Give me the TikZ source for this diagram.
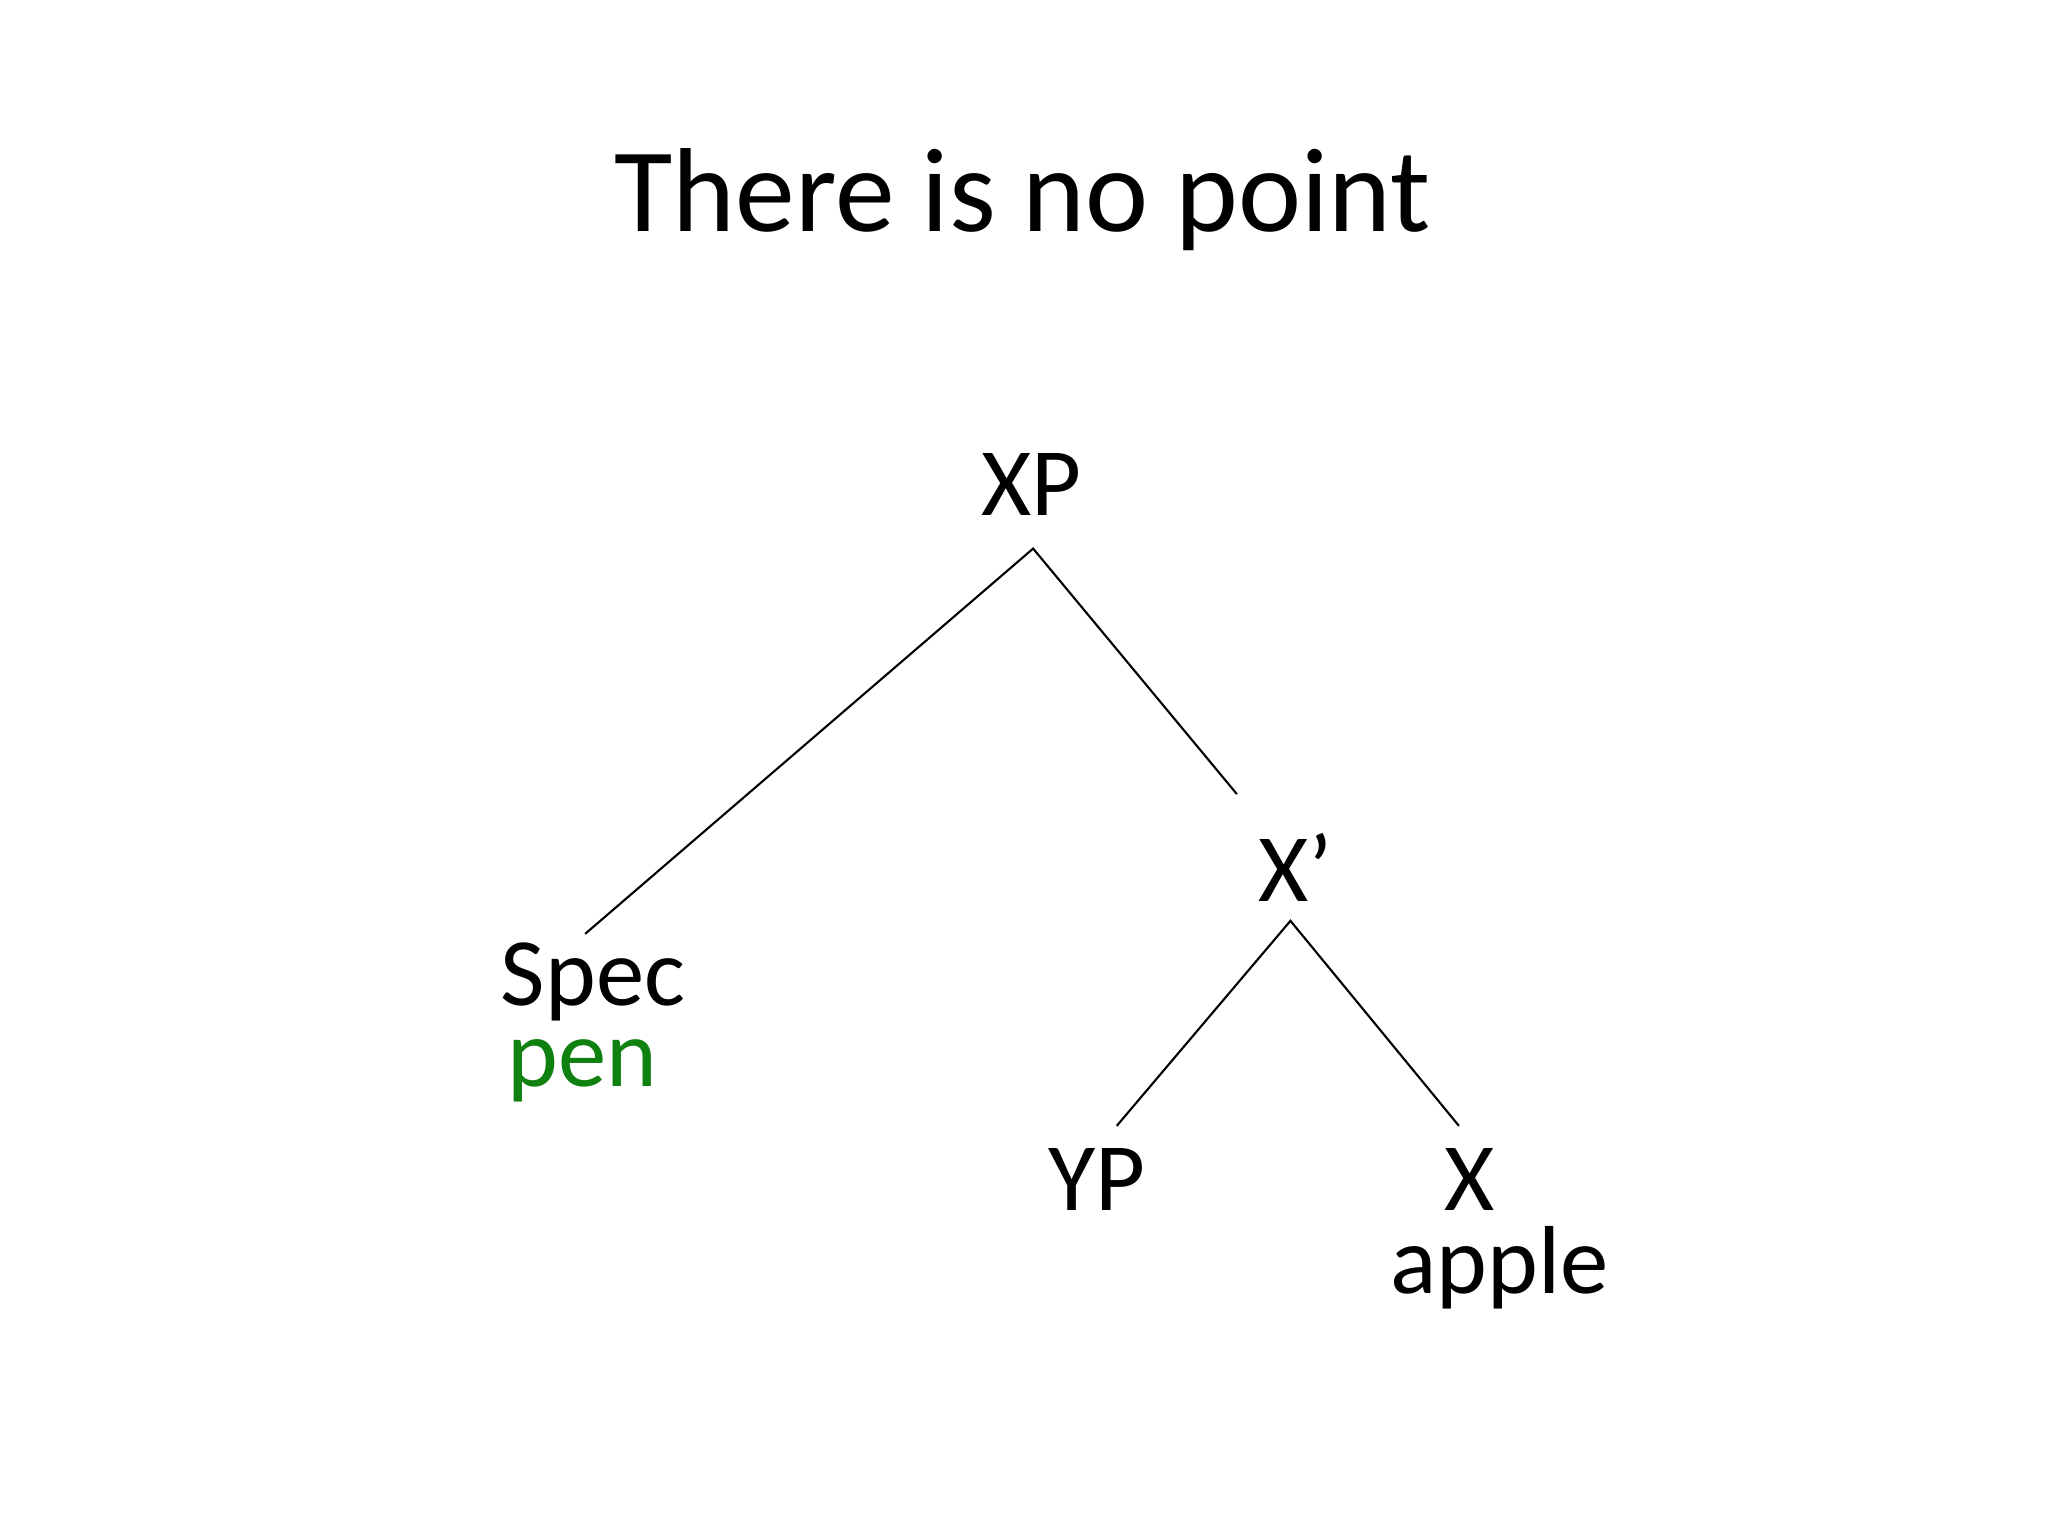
\documentclass[tikz,border=0pt]{standalone}
\usepackage{fontspec}
\setmainfont{Carlito}
\definecolor{pengreen}{RGB}{16,128,16}
\begin{document}
\begin{tikzpicture}[x=0.013061cm,y=-0.013061cm,
  lab/.style={anchor=base,inner sep=0pt,font=\fontsize{27.5}{30}\selectfont},
  edge/.style={draw,line width=0.6pt}]
\useasboundingbox (0,0) rectangle (1568,1176);
\node[anchor=base,inner sep=0pt,font=\fontsize{34}{38}\selectfont] (title) at (783,177) {There is no point};
\node[lab] (xp) at (790,395) {XP};
\node[lab] (xbar) at (992,690) {X’};
\node[lab,anchor=base west] (spec) at (383,770) {Spec};
\node[lab,anchor=base west,text=pengreen] (pen) at (388,832) {pen};
\node[lab] (yp) at (840,927) {YP};
\node[lab] (x) at (1125,927) {X};
\node[lab] (apple) at (1148,990) {apple};
\coordinate (xpb) at (791,420);
\coordinate (spect) at (448,715);
\coordinate (xbart) at (947,608);
\coordinate (xbarb) at (988,705);
\coordinate (ypt) at (855,862);
\coordinate (xt) at (1117,862);
\draw[edge] (spect) -- (xpb) -- (xbart);
\draw[edge] (ypt) -- (xbarb) -- (xt);
\end{tikzpicture}
\end{document}
